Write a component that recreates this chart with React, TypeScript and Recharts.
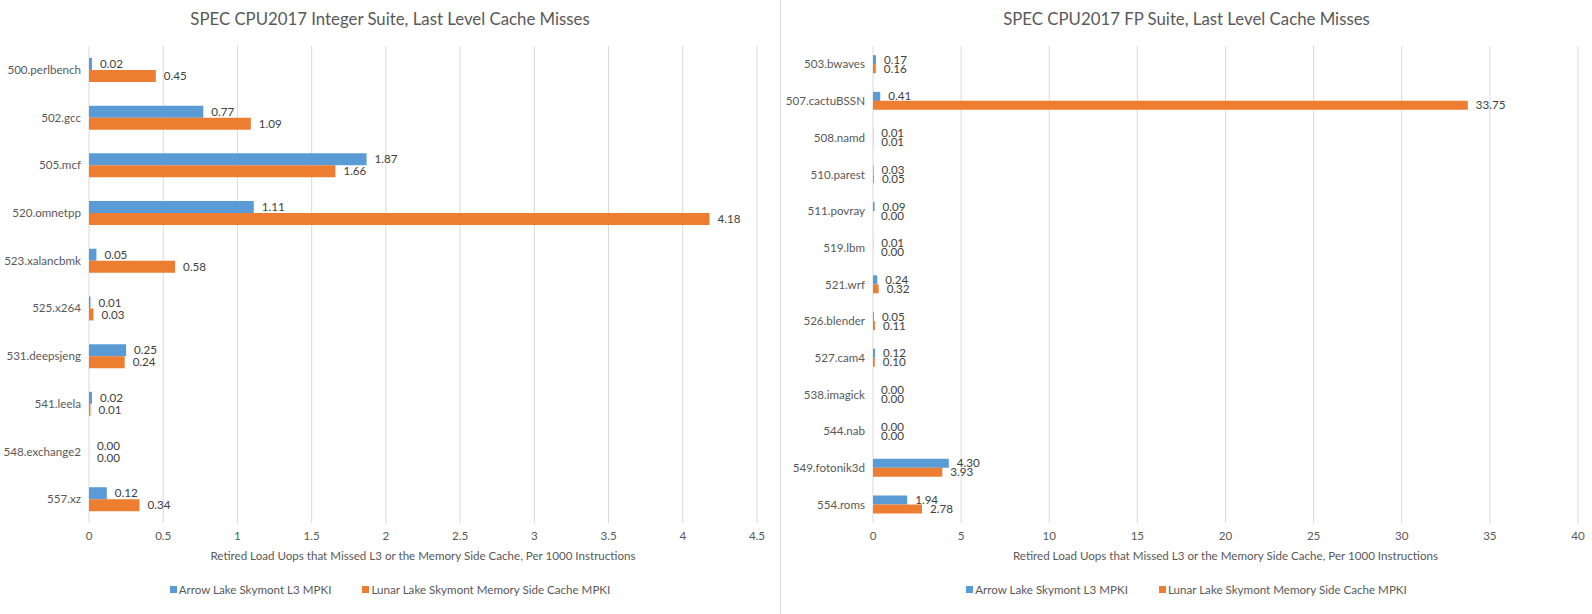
import { Bar, BarChart, CartesianGrid, LabelList, XAxis, YAxis } from 'recharts'

const intCategories = [
  '500.perlbench',
  '502.gcc',
  '505.mcf',
  '520.omnetpp',
  '523.xalancbmk',
  '525.x264',
  '531.deepsjeng',
  '541.leela',
  '548.exchange2',
  '557.xz',
]
const intArrow = [0.02, 0.77, 1.87, 1.11, 0.05, 0.01, 0.25, 0.02, 0.0, 0.12]
const intLunar = [0.45, 1.09, 1.66, 4.18, 0.58, 0.03, 0.24, 0.01, 0.0, 0.34]
const intTicks = [0, 0.5, 1, 1.5, 2, 2.5, 3, 3.5, 4, 4.5]

const fpCategories = [
  '503.bwaves',
  '507.cactuBSSN',
  '508.namd',
  '510.parest',
  '511.povray',
  '519.lbm',
  '521.wrf',
  '526.blender',
  '527.cam4',
  '538.imagick',
  '544.nab',
  '549.fotonik3d',
  '554.roms',
]
const fpArrow = [0.17, 0.41, 0.01, 0.03, 0.09, 0.01, 0.24, 0.05, 0.12, 0.0, 0.0, 4.3, 1.94]
const fpLunar = [0.16, 33.75, 0.01, 0.05, 0.0, 0.0, 0.32, 0.11, 0.1, 0.0, 0.0, 3.93, 2.78]
const fpTicks = [0, 5, 10, 15, 20, 25, 30, 35, 40]

const seriesNames = ['Arrow Lake Skymont L3 MPKI', 'Lunar Lake Skymont Memory Side Cache MPKI']
const axisTitle = 'Retired Load Uops that Missed L3 or the Memory Side Cache, Per 1000 Instructions'

const BLUE = '#5B9BD5'
const ORANGE = '#ED7D31'
const TEXT = '#595959'
const GRID = '#D9D9D9'
const FONT = 'Lato, "Noto Sans", sans-serif'
const SMALL = 11.6

interface PanelProps {
  title: string
  categories: string[]
  arrow: number[]
  lunar: number[]
  ticks: number[]
  left: number
  width: number
  yWidth: number
  marginLeft: number
  marginRight: number
}

function Panel({ title, categories, arrow, lunar, ticks, left, width, yWidth, marginLeft, marginRight }: PanelProps) {
  const data = categories.map((name, i) => ({ name, arrow: arrow[i], lunar: lunar[i] }))
  const fmt = (v: unknown) => Number(v).toFixed(2)
  return (
    <div style={{ position: 'absolute', left, top: 0, width, height: 614 }}>
      <div
        style={{
          position: 'absolute',
          top: 8,
          left: 0,
          width,
          textAlign: 'center',
          fontSize: 16.8,
          color: TEXT,
          fontFamily: FONT,
        }}
      >
        {title}
      </div>
      <BarChart
        width={width}
        height={614}
        data={data}
        layout="vertical"
        barCategoryGap="25%"
        barGap={0}
        margin={{ top: 46, right: marginRight, bottom: 62, left: marginLeft }}
      >
        <CartesianGrid horizontal={false} stroke={GRID} />
        <XAxis
          type="number"
          domain={[ticks[0], ticks[ticks.length - 1]]}
          ticks={ticks}
          interval={0}
          axisLine={false}
          tickLine={false}
          tickMargin={3}
          height={29}
          tick={{ fill: TEXT, fontSize: SMALL, fontFamily: FONT }}
          label={{ value: axisTitle, position: 'bottom', offset: 0, fill: TEXT, fontSize: SMALL, fontFamily: FONT }}
        />
        <YAxis
          type="category"
          dataKey="name"
          width={yWidth}
          axisLine={false}
          tickLine={false}
          tick={{ fill: TEXT, fontSize: SMALL, fontFamily: FONT }}
        />
        <Bar dataKey="arrow" fill={BLUE} minPointSize={0.01} isAnimationActive={false}>
          <LabelList dataKey="arrow" position="right" offset={8} formatter={fmt} fill="#404040" fontSize={SMALL} fontFamily={FONT} />
        </Bar>
        <Bar dataKey="lunar" fill={ORANGE} minPointSize={0.01} isAnimationActive={false}>
          <LabelList dataKey="lunar" position="right" offset={8} formatter={fmt} fill="#404040" fontSize={SMALL} fontFamily={FONT} />
        </Bar>
      </BarChart>
      <div
        style={{
          position: 'absolute',
          top: 583,
          left: 0,
          width,
          display: 'flex',
          justifyContent: 'center',
          gap: 31,
          fontSize: SMALL,
          color: TEXT,
          fontFamily: FONT,
        }}
      >
        {seriesNames.map((s, i) => (
          <span key={s} style={{ display: 'flex', alignItems: 'center', gap: 2 }}>
            <span style={{ width: 7, height: 7, background: i === 0 ? BLUE : ORANGE, display: 'inline-block' }} />
            {s}
          </span>
        ))}
      </div>
    </div>
  )
}

export default function App() {
  return (
    <div style={{ position: 'fixed', left: 0, top: 0, width: 1592, height: 614, background: '#fff' }}>
      <Panel
        title="SPEC CPU2017 Integer Suite, Last Level Cache Misses"
        categories={intCategories}
        arrow={intArrow}
        lunar={intLunar}
        ticks={intTicks}
        left={0}
        width={780}
        yWidth={80}
        marginLeft={9}
        marginRight={23}
      />
      <div style={{ position: 'absolute', left: 780, top: 0, width: 1, height: 614, background: GRID }} />
      <Panel
        title="SPEC CPU2017 FP Suite, Last Level Cache Misses"
        categories={fpCategories}
        arrow={fpArrow}
        lunar={fpLunar}
        ticks={fpTicks}
        left={781}
        width={811}
        yWidth={84}
        marginLeft={8}
        marginRight={14}
      />
    </div>
  )
}
